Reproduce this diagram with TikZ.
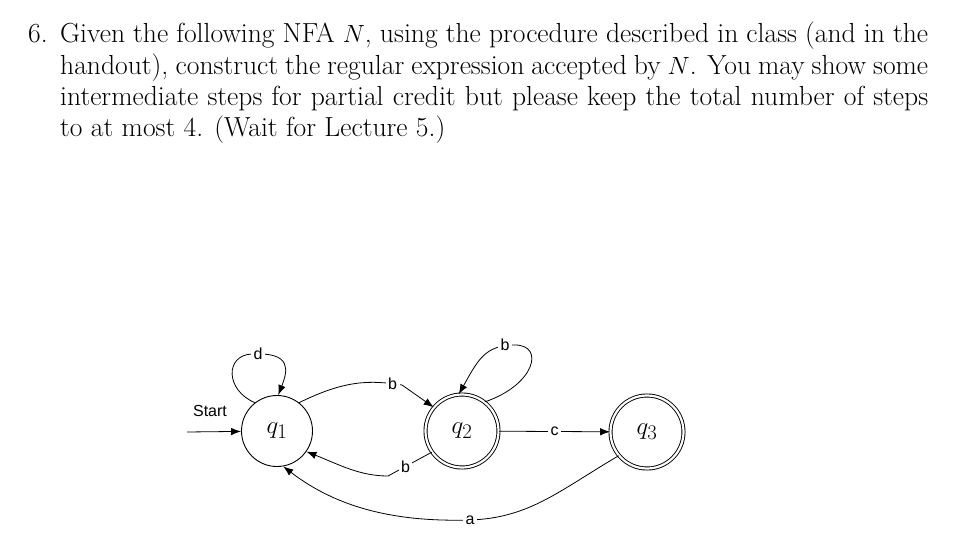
\documentclass[tikz,border=0pt]{standalone}
\usepackage{fontspec}
\newfontfamily\lab{Liberation Sans}
\usetikzlibrary{arrows.meta}
\begin{document}
\begin{tikzpicture}[x=1pt,y=-1pt,
  st/.style={circle,draw,line width=0.9pt,minimum size=71pt,inner sep=0pt,font=\fontsize{32}{32}\selectfont,fill=white},
  acc/.style={st,double,double distance=2.2pt,minimum size=73pt},
  ed/.style={line width=0.8pt,-{Latex[length=10pt,width=7.5pt]}},
  lb/.style={fill=white,inner sep=2.5pt,font=\lab\fontsize{16}{16}\selectfont}]
\useasboundingbox (0,0) rectangle (971,553);
\node[anchor=north west,inner sep=0pt] (txt) at (28,22) {\begin{minipage}[t]{900pt}\fontsize{27.6}{31.2}\selectfont
\hangindent=32pt\hangafter=1\noindent\makebox[32pt][l]{6.}Given the following NFA $N$, using the procedure described in class (and in the\linebreak handout), construct the regular expression accepted by $N$. You may show some\linebreak intermediate steps for partial credit but please keep the total number of steps\linebreak to at most 4. (Wait for Lecture 5.)\end{minipage}};
\node[st] (q1) at (277,431) {$q_1$};
\node[acc] (q2) at (462,431) {$q_2$};
\node[acc] (q3) at (647,432) {$q_3$};
\coordinate (s) at (187,432);
\node[lb,anchor=south] (st) at (210,419) {Start};
\draw[ed] (s) -- (q1);
\draw[ed] (q1.128) .. controls (225,390) and (225,355) .. (252,354) node[lb,pos=1,xshift=6pt] {d} .. controls (292,352) and (288,370) .. (q1.88);
\draw[ed] (q1.52) .. controls (345,380) and (370,380) .. node[lb,pos=0.9] {b} (402,385) -- (q2.140);
\draw[ed] (q2.215) -- node[lb,pos=0.6] {b} (388,476) .. controls (360,476) and (340,465) .. (q1.-35);
\draw[ed] (q2.52) .. controls (535,385) and (545,345) .. (515,345) node[lb,pos=1,xshift=-10pt] {b} .. controls (485,345) and (478,360) .. (q2.95);
\draw[ed] (q2) -- node[lb] {c} (q3);
\draw[ed] (q3.220) .. controls (560,490) and (530,518) .. node[lb,pos=1] {a} (470,520) .. controls (400,522) and (340,510) .. (q1.-80);
\end{tikzpicture}
\end{document}
